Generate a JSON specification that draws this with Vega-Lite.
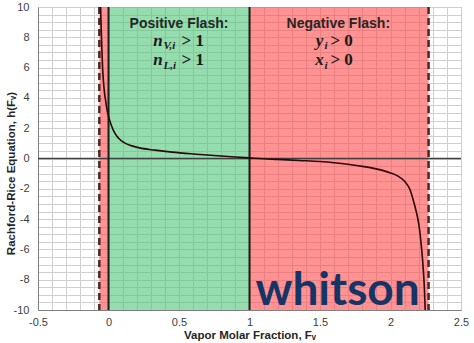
{
  "$schema": "https://vega.github.io/schema/vega-lite/v6.json",
  "width": 423,
  "height": 303,
  "autosize": "none",
  "padding": {"left": 38, "top": 7, "right": 13, "bottom": 33},
  "background": "white",
  "config": {
    "view": {"stroke": "#a6a6a6", "strokeWidth": 1},
    "font": "Liberation Sans"
  },
  "datasets": {
    "zones": [
      {"x0": -0.065, "x1": 0, "zone": "neg"},
      {"x0": 0, "x1": 1, "zone": "pos"},
      {"x0": 1, "x1": 2.27, "zone": "neg"}
    ],
    "curve": [
      {"F": -0.056, "h": 10},
      {"F": -0.052, "h": 8.6},
      {"F": -0.047, "h": 7.2},
      {"F": -0.042, "h": 6.0},
      {"F": -0.035, "h": 5.0},
      {"F": -0.028, "h": 4.3},
      {"F": -0.02, "h": 3.8},
      {"F": -0.01, "h": 3.2},
      {"F": 0, "h": 2.8},
      {"F": 0.02, "h": 2.2},
      {"F": 0.043, "h": 1.7},
      {"F": 0.07, "h": 1.35},
      {"F": 0.11, "h": 1.05},
      {"F": 0.16, "h": 0.85},
      {"F": 0.22, "h": 0.7},
      {"F": 0.33, "h": 0.55},
      {"F": 0.45, "h": 0.42},
      {"F": 0.6, "h": 0.3},
      {"F": 0.75, "h": 0.2},
      {"F": 0.9, "h": 0.1},
      {"F": 1.0, "h": 0.04},
      {"F": 1.1, "h": -0.02},
      {"F": 1.2, "h": -0.06},
      {"F": 1.35, "h": -0.13},
      {"F": 1.5, "h": -0.2},
      {"F": 1.6, "h": -0.28},
      {"F": 1.71, "h": -0.4},
      {"F": 1.8, "h": -0.52},
      {"F": 1.88, "h": -0.65},
      {"F": 1.95, "h": -0.8},
      {"F": 2.0, "h": -0.95},
      {"F": 2.05, "h": -1.15},
      {"F": 2.1, "h": -1.5},
      {"F": 2.14, "h": -2.1},
      {"F": 2.16, "h": -2.7},
      {"F": 2.18, "h": -3.4},
      {"F": 2.2, "h": -4.3},
      {"F": 2.21, "h": -5.0},
      {"F": 2.22, "h": -5.9},
      {"F": 2.23, "h": -7.0},
      {"F": 2.24, "h": -8.5},
      {"F": 2.246, "h": -10}
    ],
    "titles": [
      {"F": 0.5, "h": 8.61, "label": "Positive Flash:"},
      {"F": 1.63, "h": 8.61, "label": "Negative Flash:"}
    ],
    "vars": [
      {"F": 0.351, "h": 7.43, "label": "n"},
      {"F": 0.351, "h": 6.17, "label": "n"},
      {"F": 1.496, "h": 7.43, "label": "y"},
      {"F": 1.496, "h": 6.17, "label": "x"}
    ],
    "subs": [
      {"F": 0.39, "h": 7.2, "label": "V,i"},
      {"F": 0.39, "h": 5.94, "label": "L,i"},
      {"F": 1.532, "h": 7.2, "label": "i"},
      {"F": 1.532, "h": 5.94, "label": "i"}
    ],
    "rels": [
      {"F": 0.518, "h": 7.43, "label": "> 1"},
      {"F": 0.518, "h": 6.17, "label": "> 1"},
      {"F": 1.574, "h": 7.43, "label": "> 0"},
      {"F": 1.574, "h": 6.17, "label": "> 0"}
    ],
    "logo": [
      {"F": 1.625, "h": -9.7, "label": "whitson"}
    ]
  },
  "layer": [
    {
      "data": {"name": "zones"},
      "mark": {"type": "rect", "opacity": 0.6},
      "encoding": {
        "x": {
          "field": "x0", "type": "quantitative",
          "scale": {"domain": [-0.5, 2.5], "nice": false, "zero": false},
          "axis": {
            "values": [-0.5,-0.4,-0.3,-0.2,-0.1,0,0.1,0.2,0.3,0.4,0.5,0.6,0.7,0.8,0.9,1,1.1,1.2,1.3,1.4,1.5,1.6,1.7,1.8,1.9,2,2.1,2.2,2.3,2.4,2.5],
            "tickCount": 100,
            "grid": true,
            "labelExpr": "abs(datum.value*2 - round(datum.value*2)) < 0.001 ? '' + datum.value : ''",
            "labelOverlap": false,
            "labelFont": "Liberation Sans", "labelFontSize": 11, "labelColor": "#404040",
            "labelPadding": 6, "labelFlush": false,
            "ticks": false,
            "domainColor": "#808080", "domainWidth": 1,
            "gridColor": "#cfcfcf", "gridWidth": 1,
            "title": "Vapor Molar Fraction, Fᵥ",
            "titleFont": "Liberation Sans", "titleFontSize": 11.5, "titleFontWeight": "bold", "titleColor": "#262626",
            "titlePadding": 2
          }
        },
        "x2": {"field": "x1"},
        "y": {"datum": -10, "type": "quantitative",
          "scale": {"domain": [-10, 10], "nice": false},
          "axis": {
            "values": [-10,-9.5,-9,-8.5,-8,-7.5,-7,-6.5,-6,-5.5,-5,-4.5,-4,-3.5,-3,-2.5,-2,-1.5,-1,-0.5,0,0.5,1,1.5,2,2.5,3,3.5,4,4.5,5,5.5,6,6.5,7,7.5,8,8.5,9,9.5,10],
            "tickCount": 100,
            "grid": true,
            "labelExpr": "datum.value % 2 == 0 ? '' + datum.value : ''",
            "labelOverlap": false,
            "labelFont": "Liberation Sans", "labelFontSize": 11, "labelColor": "#404040",
            "labelPadding": 9,
            "ticks": false,
            "domainColor": "#808080", "domainWidth": 1,
            "gridColor": "#cfcfcf", "gridWidth": 1,
            "title": "Rachford-Rice Equation, h(Fᵥ)",
            "titleFont": "Liberation Sans", "titleFontSize": 11.5, "titleFontWeight": "bold", "titleColor": "#262626",
            "titleX": -27, "titleY": 166, "titleBaseline": "middle"
          }
        },
        "y2": {"datum": 10},
        "color": {
          "field": "zone", "type": "nominal",
          "scale": {"domain": ["pos", "neg"], "range": ["#4ec47a", "#ff4a4a"]},
          "legend": null
        }
      }
    },
    {
      "data": {"values": [{"y": 0}]},
      "mark": {"type": "rule", "color": "#404040", "strokeWidth": 1.3},
      "encoding": {"y": {"field": "y", "type": "quantitative"}}
    },
    {
      "data": {"values": [{"x": 0}, {"x": 1}]},
      "mark": {"type": "rule", "color": "#1e1e1e", "strokeWidth": 2},
      "encoding": {"x": {"field": "x", "type": "quantitative"}}
    },
    {
      "data": {"values": [{"x": -0.065}, {"x": 2.27}]},
      "mark": {"type": "rule", "color": "#4a2626", "strokeWidth": 2.5, "strokeDash": [7, 4]},
      "encoding": {"x": {"field": "x", "type": "quantitative"}}
    },
    {
      "data": {"name": "curve"},
      "mark": {"type": "line", "color": "#2a0a0a", "strokeWidth": 1.6, "clip": true, "interpolate": "monotone"},
      "encoding": {
        "x": {"field": "F", "type": "quantitative"},
        "y": {"field": "h", "type": "quantitative"}
      }
    },
    {
      "data": {"name": "titles"},
      "mark": {"type": "text", "font": "Liberation Sans", "fontWeight": "bold", "fontSize": 14, "color": "#262626", "align": "center", "baseline": "alphabetic"},
      "encoding": {
        "x": {"field": "F", "type": "quantitative"},
        "y": {"field": "h", "type": "quantitative"},
        "text": {"field": "label"}
      }
    },
    {
      "data": {"name": "vars"},
      "mark": {"type": "text", "font": "Liberation Serif", "fontWeight": "bold", "fontStyle": "italic", "fontSize": 17, "color": "#1a1a1a", "align": "center", "baseline": "alphabetic"},
      "encoding": {
        "x": {"field": "F", "type": "quantitative"},
        "y": {"field": "h", "type": "quantitative"},
        "text": {"field": "label"}
      }
    },
    {
      "data": {"name": "subs"},
      "mark": {"type": "text", "font": "Liberation Serif", "fontWeight": "bold", "fontStyle": "italic", "fontSize": 11, "color": "#1a1a1a", "align": "left", "baseline": "alphabetic"},
      "encoding": {
        "x": {"field": "F", "type": "quantitative"},
        "y": {"field": "h", "type": "quantitative"},
        "text": {"field": "label"}
      }
    },
    {
      "data": {"name": "rels"},
      "mark": {"type": "text", "font": "Liberation Serif", "fontWeight": "bold", "fontSize": 17, "color": "#1a1a1a", "align": "left", "baseline": "alphabetic"},
      "encoding": {
        "x": {"field": "F", "type": "quantitative"},
        "y": {"field": "h", "type": "quantitative"},
        "text": {"field": "label"}
      }
    },
    {
      "data": {"name": "logo"},
      "mark": {"type": "text", "font": "Lato", "fontWeight": "bold", "fontSize": 46, "color": "#163567", "align": "center", "baseline": "alphabetic"},
      "encoding": {
        "x": {"field": "F", "type": "quantitative"},
        "y": {"field": "h", "type": "quantitative"},
        "text": {"field": "label"}
      }
    }
  ]
}
